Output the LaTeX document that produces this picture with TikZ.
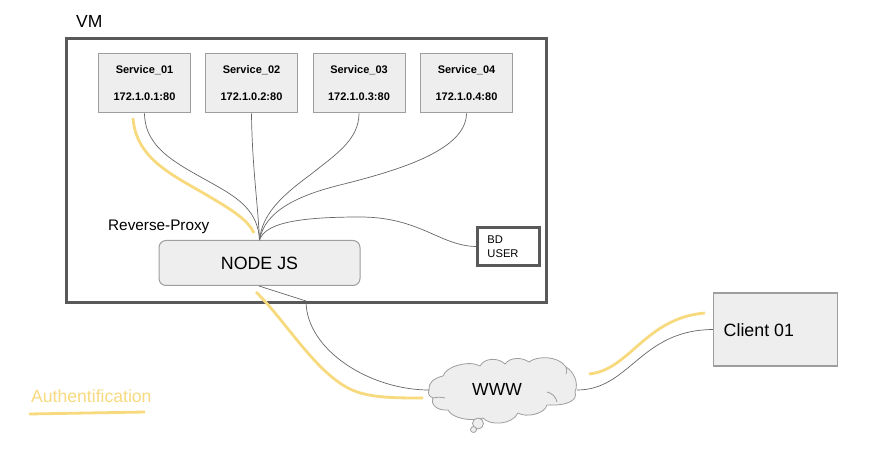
\documentclass[tikz,border=0pt]{standalone}
\usepackage{fontspec}
\setmainfont{Liberation Sans}
\definecolor{boxfill}{HTML}{EEEEEE}
\definecolor{boxline}{HTML}{9E9E9E}
\definecolor{darkline}{HTML}{595959}
\definecolor{wire}{HTML}{666666}
\definecolor{hilite}{HTML}{F7D97E}
\tikzset{
  svc/.style={draw=boxline,fill=boxfill,line width=1pt,minimum width=92pt,minimum height=59pt,inner sep=0pt,align=center,font=\fontsize{11}{27}\selectfont\bfseries},
  wirep/.style={draw=wire,line width=0.7pt},
  hl/.style={draw=hilite,line width=2.8pt},
  lbl/.style={inner sep=0pt,anchor=base west,text=black},
  cloudline/.style={draw=boxline,line width=0.8pt}
}
\begin{document}
\begin{tikzpicture}[x=1pt,y=-1pt]
\useasboundingbox (0,0) rectangle (870,470);
\node[draw=darkline,line width=2.6pt,minimum width=480pt,minimum height=264pt,inner sep=0pt] (vm) at (306.5,170.5) {};
\node[lbl,font=\fontsize{17.5}{20}\selectfont] (vmlabel) at (76,28) {VM};
\node[svc] (s1) at (144.5,83.5) {Service\_01\\172.1.0.1:80};
\node[svc] (s2) at (251.5,83.5) {Service\_02\\172.1.0.2:80};
\node[svc] (s3) at (359,83.5) {Service\_03\\172.1.0.3:80};
\node[svc] (s4) at (466.5,83.5) {Service\_04\\172.1.0.4:80};
\node[draw=boxline,fill=boxfill,rounded corners=7pt,line width=1pt,minimum width=201pt,minimum height=45pt,inner sep=0pt,font=\fontsize{17.8}{20}\selectfont] (node) at (259.5,263) {NODE JS};
\node[lbl,font=\fontsize{15.3}{18}\selectfont] (rp) at (108,231) {Reverse-Proxy};
\node[draw=darkline,line width=2.4pt,minimum width=62pt,minimum height=38pt,inner sep=0pt,align=left,font=\fontsize{11.2}{14}\selectfont] (bd) at (508.5,246.5) {BD\\USER\hspace*{11pt}};
\node[draw=boxline,fill=boxfill,line width=1.2pt,minimum width=124pt,minimum height=73pt,inner sep=0pt] (client) at (775.5,329.5) {};
\node[lbl,font=\fontsize{17.8}{20}\selectfont] (clientlabel) at (723.5,336) {Client 01};
% cloud
\draw[cloudline,fill=boxfill] (429,390)
 .. controls (428,383) and (434,378) .. (443,376)
 .. controls (446,366) and (470,360) .. (480,366)
 .. controls (484,358) and (498,357) .. (505,364)
 .. controls (510,357) and (522,357) .. (529,362)
 .. controls (536,356) and (558,355) .. (566,367)
 .. controls (574,372) and (579,383) .. (575,392)
 .. controls (578,400) and (568,406) .. (547,405)
 .. controls (545,414) and (526,418) .. (518,413)
 .. controls (512,425) and (490,426) .. (483,418)
 .. controls (470,422) and (452,418) .. (448,410)
 .. controls (438,411) and (430,405) .. (433,398)
 .. controls (428,396) and (428,393) .. (429,390) -- cycle;
\draw[cloudline,fill=boxfill] (478,423.5) circle (5.5pt);
\draw[cloudline,fill=boxfill] (473.5,429.5) circle (3pt);
\draw[cloudline] (433,398) .. controls (437,397) and (441,397) .. (445,398);
\draw[cloudline] (547,392) .. controls (552,393) and (556,397) .. (557,402);
\draw[cloudline] (566,367) .. controls (567,370) and (567,372) .. (566,374);
\node[inner sep=0pt,font=\fontsize{17.5}{20}\selectfont] (www) at (497,389) {WWW};
\coordinate (cloudw) at (429,390);
\coordinate (cloude) at (577,390);
\coordinate (h1) at (133,118);
\coordinate (h1e) at (254,233);
\coordinate (h2) at (256,292);
\coordinate (h2e) at (423,398);
\coordinate (h3) at (589,374);
\coordinate (h3e) at (705,313);
\coordinate (h4) at (29,414);
\coordinate (h4e) at (145,412);
% wires
\draw[wirep] (s1.south) .. controls (145,150) and (180,165) .. (215,185) .. controls (240,199) and (258,212) .. (node.north);
\draw[wirep] (s2.south) .. controls (252,165) and (258,205) .. (node.north);
\draw[wirep] (s3.south) .. controls (359,140) and (335,155) .. (310,175) .. controls (280,197) and (262,215) .. (node.north);
\draw[wirep] (s4.south) .. controls (466,150) and (400,170) .. (340,185) .. controls (300,195) and (265,210) .. (node.north);
\draw[wirep] (node.north) .. controls (265,225) and (290,217) .. (360,217) .. controls (420,217) and (440,246) .. (bd.west);
\draw[wirep] (259,286) -- (306,301) .. controls (306,350) and (370,390) .. (cloudw);
\draw[wirep] (cloude) .. controls (630,390) and (640,330) .. (client.west);
% highlights
\draw[hl] (h1) .. controls (136,160) and (175,176) .. (210,197) .. controls (232,210) and (248,220) .. (h1e);
\draw[hl] (h2) .. controls (285,320) and (315,372) .. (350,389) .. controls (368,398) and (395,398) .. (h2e);
\draw[hl] (h3) .. controls (630,370) and (645,318) .. (h3e);
\draw[hl] (h4) -- (h4e);
\node[lbl,font=\fontsize{17.6}{20}\selectfont,text=hilite] (auth) at (31,402) {Authentification};
\end{tikzpicture}
\end{document}
